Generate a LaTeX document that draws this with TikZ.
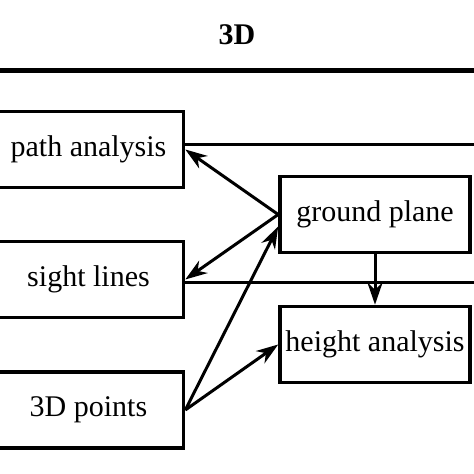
\documentclass[tikz,border=0pt]{standalone}
\usepackage{fontspec}
\setmainfont{Liberation Serif}
\usetikzlibrary{arrows.meta}
\tikzset{% styles for the boxes and the connectors
   stagebox/.style={draw, line width=3.6pt, minimum width=190pt, minimum height=76pt,
                    inner sep=0pt, font=\fontsize{30}{36}\selectfont},
   flowarrow/.style={line width=3pt, -{Stealth[length=22pt,width=15pt,inset=7pt]}},
   feedline/.style={line width=3pt}
}

\begin{document}
\begin{tikzpicture}[x=1pt,y=1pt]
     \useasboundingbox (0,0) rectangle (474,474);
     \node at (237,439) (title) {\fontsize{30}{36}\selectfont\bfseries 3D};
     \coordinate (ruleL) at (0,403);
     \coordinate (ruleR) at (474,403);
     \draw[line width=5pt] (ruleL) -- (ruleR);
     \coordinate (rim) at (474,0);
     % left column
     \node at (88.5,324.5) [stagebox] (pathan) {path analysis};
     \node at (88.5,194.5) [stagebox] (sight) {sight lines};
     \node at (88.5,64) [stagebox] (points) {3D points};
     % right column
     \node at (375,259.5) [stagebox] (ground) {ground plane};
     \node at (375,129.5) [stagebox] (height) {height analysis};
     % lines leaving to the right
     \draw[feedline] ([yshift=4.5pt]pathan.east) -- ([yshift=4.5pt]pathan.east -| rim);
     \draw[feedline] ([yshift=-3.5pt]sight.east) -- ([yshift=-3.5pt]sight.east -| rim);
     % arrows
     \draw[flowarrow] (ground.west) -- (pathan.east);
     \draw[flowarrow] (ground.west) -- (sight.east);
     \draw[flowarrow] (points.east) -- ([yshift=-12pt]ground.west);
     \draw[flowarrow] (points.east) -- (height.west);
     \draw[flowarrow] (ground.south) -- (height.north);
\end{tikzpicture}
\end{document}
